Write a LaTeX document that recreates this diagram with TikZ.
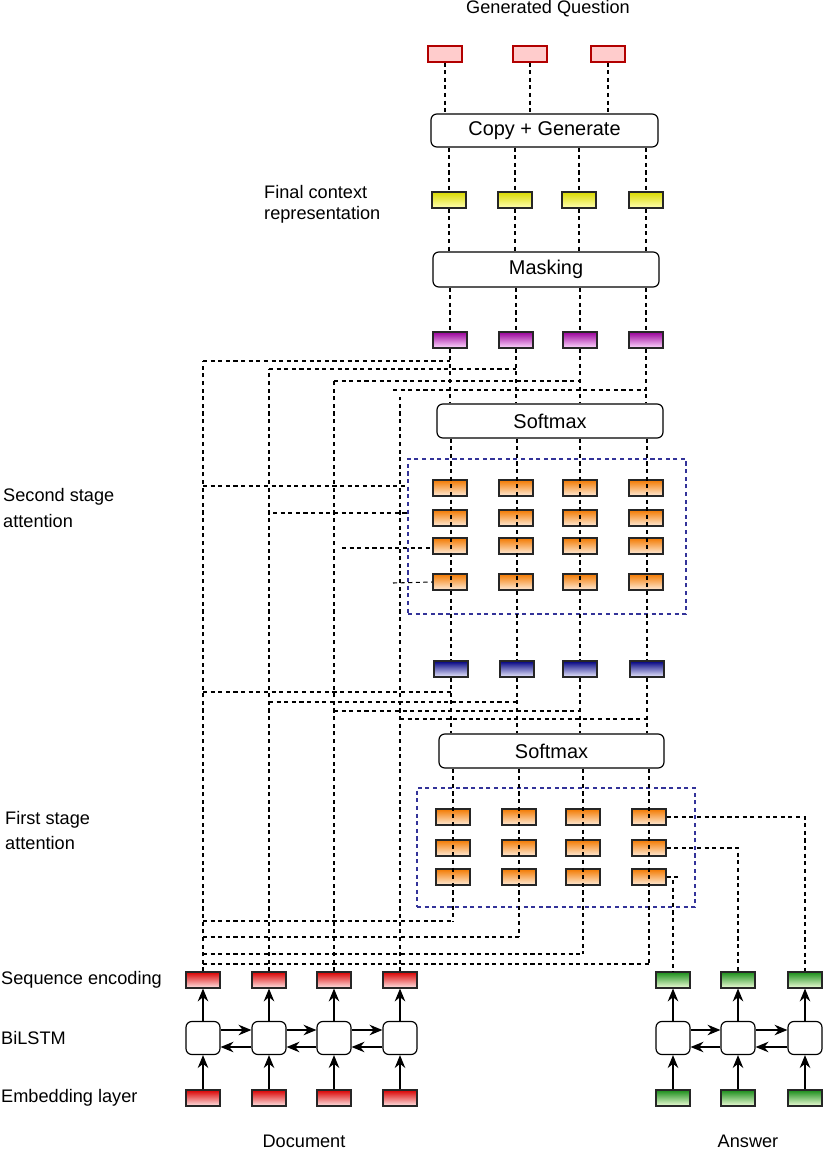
\documentclass[tikz,border=0pt]{standalone}
\usepackage{fontspec}
\setmainfont{Liberation Sans}
\usetikzlibrary{arrows.meta,shadings}
\begin{document}
\begin{tikzpicture}[x=0.03cm,y=-0.03cm,
  lab/.style={font=\fontsize{15.5}{17}\selectfont,inner sep=0pt},
  blk/.style={draw,rounded corners=5pt,line width=1pt,font=\fontsize{17}{19}\selectfont,minimum height=0.99cm,inner sep=0pt},
  vec/.style={draw=black!85,line width=0.9pt,minimum width=1.02cm,minimum height=0.48cm,inner sep=0pt},
  pink/.style={vec,draw=red!70!black,fill=red!20},
  yel/.style={vec,top color=yellow!85!black,bottom color=yellow!30},
  pur/.style={vec,top color=magenta!60!black,bottom color=magenta!15},
  ora/.style={vec,top color=orange!95!black,bottom color=orange!15},
  blu/.style={vec,top color=blue!50!black,bottom color=blue!8},
  red/.style={vec,top color=red!85!black,bottom color=red!10},
  grn/.style={vec,top color=green!50!black!90,bottom color=green!40!yellow!15},
  cell/.style={draw,rounded corners=5pt,line width=1pt,minimum width=1.02cm,minimum height=0.99cm,inner sep=0pt},
  dl/.style={dash pattern=on 3.5pt off 3pt,line width=0.9pt},
  bx/.style={draw=blue!50!black!80,dash pattern=on 3.5pt off 3pt,line width=0.9pt},
  ar/.style={line width=1.1pt,-{Stealth[length=11pt,width=9pt]}}]
\useasboundingbox (0,0) rectangle (823,1150);
% labels
\node[lab] (tq) at (548,9) {Generated Question};
\node[lab,anchor=west] (lf1) at (264,192) {Final context};
\node[lab,anchor=west] (lf2) at (264,215) {representation};
\node[lab,anchor=west] (ls1) at (3,497) {Second stage};
\node[lab,anchor=west] (ls2) at (3,521) {attention};
\node[lab,anchor=west] (lt1) at (5,820) {First stage};
\node[lab,anchor=west] (lt2) at (5,843) {attention};
\node[lab,anchor=west] (lse) at (1,980) {Sequence encoding};
\node[lab,anchor=west] (lbl) at (1,1038) {BiLSTM};
\node[lab,anchor=west] (lem) at (1,1098) {Embedding layer};
\node[lab] (ldoc) at (304,1141) {Document};
\node[lab] (lans) at (748,1141) {Answer};
% top
\foreach \x [count=\i] in {445,530,608} \node[pink] (p\i) at (\x,54) {};
\node[blk,minimum width=6.81cm] (copy) at (544.5,130.5) {Copy + Generate};
\foreach \x [count=\i] in {449,515,579,646} \node[yel] (y\i) at (\x,200) {};
\node[blk,minimum width=6.78cm,minimum height=1.05cm] (mask) at (546,269.5) {Masking};
\foreach \x [count=\i] in {450,516,580,646} \node[pur] (m\i) at (\x,340) {};
\node[blk,minimum width=6.78cm,minimum height=1.02cm] (sm) at (550,421) {Softmax};
\node[bx,minimum width=8.34cm,minimum height=4.65cm,inner sep=0pt] (ssb) at (547,536.5) {};
\foreach \y [count=\r] in {488,518,546,582}
  \foreach \x [count=\i] in {450,516,580,646} \node[ora] (o\r\i) at (\x,\y) {};
\foreach \x [count=\i] in {451,517,580,647} \node[blu] (b\i) at (\x,669) {};
\node[blk,minimum width=6.75cm,minimum height=1.02cm] (sm2) at (551.5,751) {Softmax};
\node[bx,minimum width=8.34cm,minimum height=3.57cm,inner sep=0pt] (fsb) at (556,847.5) {};
\foreach \y [count=\r] in {817,848,877}
  \foreach \x [count=\i] in {453,519,583,649} \node[ora] (f\r\i) at (\x,\y) {};
% bottom
\foreach \x [count=\i] in {203,269,334,400} {
  \node[red] (d\i) at (\x,980) {};
  \node[cell] (c\i) at (\x,1038) {};
  \node[red] (e\i) at (\x,1098) {};
  \draw[ar] (e\i) -- (c\i);
  \draw[ar] (c\i) -- (d\i);
}
\foreach \x [count=\i] in {673,738,805} {
  \node[grn] (g\i) at (\x,980) {};
  \node[cell] (a\i) at (\x,1038) {};
  \node[grn] (h\i) at (\x,1098) {};
  \draw[ar] (h\i) -- (a\i);
  \draw[ar] (a\i) -- (g\i);
}
\foreach \i/\j in {c1/c2,c2/c3,c3/c4,a1/a2,a2/a3} {
  \draw[ar] ([yshift=0.24cm]\i.east) -- ([yshift=0.24cm]\j.west);
  \draw[ar] ([yshift=-0.27cm]\j.west) -- ([yshift=-0.27cm]\i.east);
}
% column dashed lines
\foreach \i in {1,2,3} \draw[dl] (p\i) -- (p\i |- copy.north);
\foreach \i in {1,...,4} {
  \draw[dl] (y\i |- copy.south) -- (y\i);
  \draw[dl] (y\i) -- (y\i |- mask.north);
  \draw[dl] (m\i |- mask.south) -- (m\i);
  \draw[dl] (m\i) -- (m\i |- sm.north);
  \draw[dl] (b\i |- sm.south) -- (b\i);
  \draw[dl] (b\i) -- (b\i |- sm2.north);
}
\coordinate (k1) at (453,921); \coordinate (k2) at (519,937);
\coordinate (k3) at (583,954); \coordinate (k4) at (649,964);
\foreach \i in {1,...,4} \draw[dl] (f1\i |- sm2.south) -- (k\i);
% document verticals
\coordinate (v1) at (203,361); \coordinate (v2) at (269,369);
\coordinate (v3) at (334,381); \coordinate (v4) at (400,397);
\foreach \i in {1,...,4} \draw[dl] (d\i) -- (v\i);
\draw[dl] (v1) -- (m1 |- v1);
\draw[dl] (v2) -- (m2 |- v2);
\draw[dl] (v3) -- (m3 |- v3);
\draw[dl] (393,390) -- (m4 |- 0,390);
% second stage feeds
\draw[dl] (203,486) -- (ssb.west |- 0,486);
\draw[dl] (273,513) -- (ssb.west |- 0,513);
\draw[dl] (342,548) -- (o31.west |- 0,548);
\draw[dl] (393,583) -- (o41.west);
% first stage feeds
\coordinate (w1) at (203,692); \coordinate (w2) at (269,702);
\coordinate (w3) at (334,711); \coordinate (w4) at (400,719);
\draw[dl] (w1) -- (b1 |- w1);
\draw[dl] (w2) -- (b2 |- w2);
\draw[dl] (w3) -- (b3 |- w3);
\draw[dl] (w4) -- (b4 |- w4);
\foreach \i in {1,...,4} \draw[dl] (d1 |- k\i) -- (k\i);
% answer connections
\draw[dl] (f14) -- (805,817) -- (g3);
\draw[dl] (f24) -- (738,848) -- (g2);
\draw[dl] (f34) -- (681,877);
\draw[dl] (g1 |- 0,880) -- (g1);
\end{tikzpicture}
\end{document}
